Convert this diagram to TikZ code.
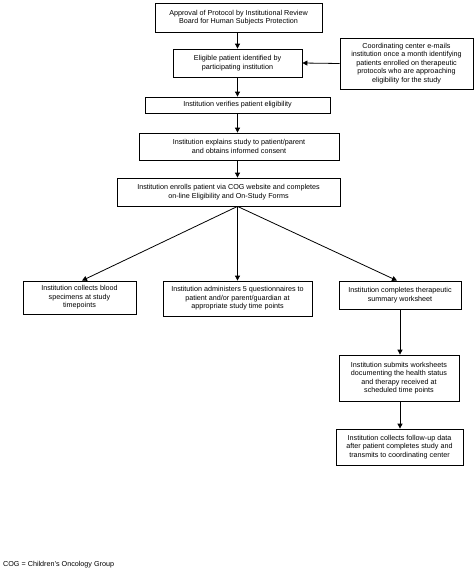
\documentclass[tikz,border=0pt]{standalone}
\usepackage{fontspec}
\setmainfont{Liberation Sans}
\usetikzlibrary{arrows.meta,calc}
\begin{document}
\begin{tikzpicture}[x=1pt,y=-1pt,
  box/.style={draw,line width=0.8pt,align=center,inner sep=0pt,font=\fontsize{7.2}{8.4}\selectfont},
  arr/.style={line width=0.8pt,-{Triangle[length=5pt,width=5pt]}}]
\useasboundingbox (0,0) rectangle (474,573);
\node[box,minimum width=167pt,minimum height=29pt] (b1) at (238.5,17.5) {Approval of Protocol by Institutional Review\\Board for Human Subjects Protection};
\node[box,minimum width=129pt,minimum height=28pt] (b2) at (237.5,63) {Eligible patient identified by\\participating institution};
\node[box,minimum width=133pt,minimum height=51pt] (cc) at (406.5,63.5) {Coordinating center e-mails\\institution once a month identifying\\patients enrolled on therapeutic\\protocols who are approaching\\eligibility for the study};
\node[box,minimum width=185pt,minimum height=16pt] (b3) at (237.5,105) {Institution verifies patient eligibility};
\node[box,minimum width=200pt,minimum height=27pt] (b4) at (239,146.5) {Institution explains study to patient/parent\\and obtains informed consent};
\node[box,minimum width=223pt,minimum height=28pt] (b5) at (228.5,192) {Institution enrolls patient via COG website and completes\\on-line Eligibility and On-Study Forms};
\node[box,minimum width=113pt,minimum height=33pt] (bl) at (79.5,297.5) {Institution collects blood\\specimens at study\\timepoints};
\node[box,minimum width=149pt,minimum height=35pt] (bm) at (237.5,298.5) {Institution administers 5 questionnaires to\\patient and/or parent/guardian at\\appropriate study time points};
\node[box,minimum width=122pt,minimum height=28pt] (br) at (400,295) {Institution completes therapeutic\\summary worksheet};
\node[box,minimum width=120pt,minimum height=46pt] (bs) at (399,378) {Institution submits worksheets\\documenting the health status\\and therapy received at\\scheduled time points};
\node[box,minimum width=127pt,minimum height=36pt] (bf) at (399.5,447) {Institution collects follow-up data\\after patient completes study and\\transmits to coordinating center};
\node[anchor=west,inner sep=0pt,font=\fontsize{7.2}{8.4}\selectfont] (fn) at (3,565) {COG = Children's Oncology Group};
\coordinate (split) at (b3.south |- b5.south);
\draw[arr] (b2.north |- b1.south) -- (b2.north);
\draw[arr] (b2.south) -- (b2.south |- b3.north);
\draw[arr] (b3.south) -- (b3.south |- b4.north);
\draw[arr] (b3.south |- b4.south) -- (b3.south |- b5.north);
\draw[arr] (cc.west) -- (b2.east);
\draw[arr] (split) -- ($(bl.north)+(2.5,0)$);
\draw[arr] (split) -- (bm.north);
\draw[arr] (split) -- ($(br.north)+(-3,0)$);
\draw[arr] (br.south) -- (br.south |- bs.north);
\draw[arr] (br.south |- bs.south) -- (br.south |- bf.north);
\end{tikzpicture}
\end{document}
